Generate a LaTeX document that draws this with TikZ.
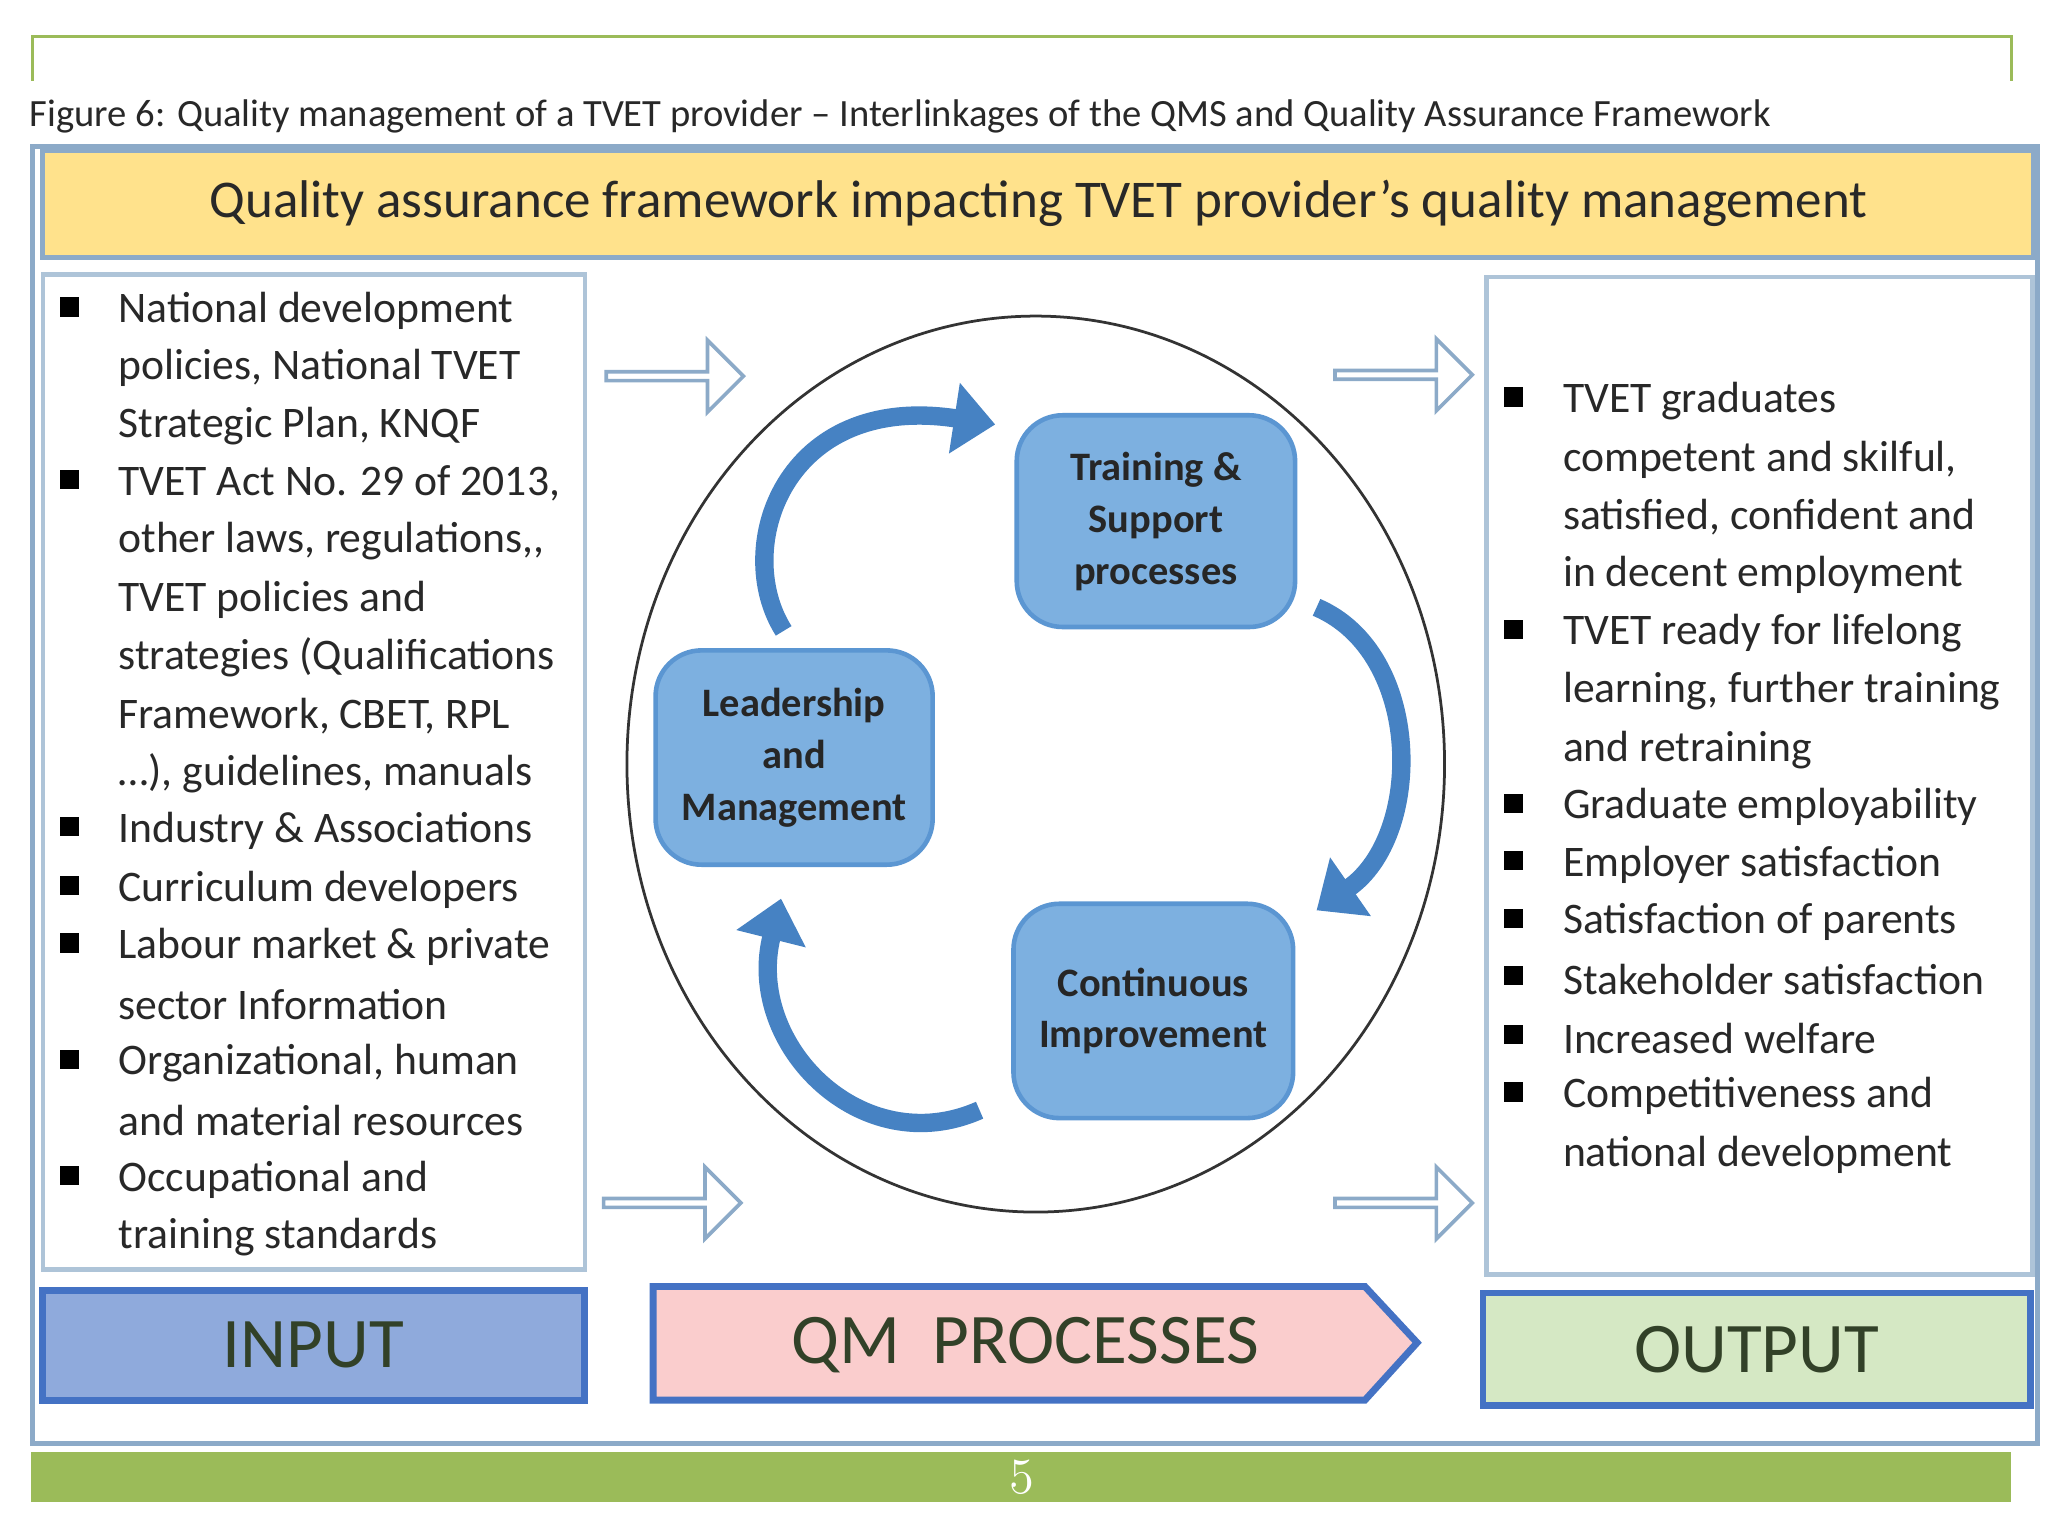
\documentclass[tikz,border=0pt]{standalone}
\usepackage{fontspec}
\setmainfont{Carlito}
\usetikzlibrary{shapes.arrows,arrows.meta}
\definecolor{olv}{RGB}{155,187,89}
\definecolor{frm}{RGB}{140,170,200}
\definecolor{boxf}{RGB}{125,176,224}
\definecolor{boxd}{RGB}{91,150,210}
\definecolor{arr}{RGB}{70,130,195}
\definecolor{txt}{RGB}{40,40,40}
\definecolor{big}{RGB}{50,65,40}
\tikzset{
 li/.style={anchor=west,inner sep=0pt,font=\fontsize{9.5}{11}\selectfont,text=txt},
 bul/.style={anchor=center,fill=black,minimum size=4.2pt,inner sep=0pt},
 pbox/.style={draw=boxd,line width=1pt,fill=boxf,rounded corners=10pt,align=center,font=\bfseries\fontsize{8.8}{11.3}\selectfont,text=black!85},
 harr/.style={single arrow,draw=frm,line width=0.8pt,fill=white,minimum height=1.05cm,minimum width=0.55cm,single arrow head extend=0.1cm,inner sep=0pt},
 carr/.style={arr,line width=4pt,-{Triangle[length=9pt,width=15pt]}},
}
\begin{document}
\begin{tikzpicture}[x=0.01cm,y=-0.01cm]
\useasboundingbox (0,0) rectangle (1568,1176);
\fill[white] (0,0) rectangle (1568,1176);
\draw[olv,line width=0.7pt] (25,62) -- (25,28) -- (1540,28) -- (1540,62);
\node[anchor=west,inner sep=0pt,font=\fontsize{8.4}{10}\selectfont,text=txt] (cap) at (22,89) {Figure 6: Quality management of a TVET provider – Interlinkages of the QMS and Quality Assurance Framework};
\draw[frm,line width=1pt] (25,112) rectangle (1560,1105);
\node[draw=frm,line width=1.2pt,fill={rgb,255:red,255;green,226;blue,140},minimum width=15.24cm,minimum height=0.82cm,font=\fontsize{11.55}{13}\selectfont,text=txt] (ban) at (795,156) {Quality assurance framework impacting TVET provider’s quality management};
\draw[frm!70,line width=1pt] (33,210) rectangle (448,972);
\draw[frm!70,line width=1pt] (1138,212) rectangle (1556,976);
\draw[black!80,line width=0.6pt] (793,585) ellipse [x radius=313,y radius=343];
\node[pbox,minimum width=2.13cm,minimum height=1.62cm] (tr) at (885,399) {Training \&\\Support\\processes};
\node[pbox,minimum width=2.12cm,minimum height=1.64cm] (ld) at (608,580) {Leadership\\and\\Management};
\node[pbox,minimum width=2.14cm,minimum height=1.64cm] (ci) at (883,774) {Continuous\\Improvement};
\coordinate (a1s) at (600,483); \coordinate (a1e) at (762,325);
\draw[carr] (a1s) .. controls (560,420) and (600,300) .. (a1e);
\coordinate (a2s) at (1008,465); \coordinate (a2e) at (1008,697);
\draw[carr] (a2s) .. controls (1090,500) and (1090,640) .. (a2e);
\coordinate (a3s) at (750,850); \coordinate (a3e) at (598,688);
\draw[carr] (a3s) .. controls (660,890) and (570,800) .. (a3e);
\node[harr] (h1) at (515,288) {};
\node[harr] (h2) at (1073,287) {};
\node[harr] (h3) at (513,921) {};
\node[harr] (h4) at (1073,921) {};
\foreach \y/\t/\b [count=\i] in {238/National development/1,282/{policies, National TVET}/0,326/{Strategic Plan, KNQF}/0,370/{TVET Act No. 29 of 2013,}/1,414/{other laws, regulations{,}{,}}/0,459/TVET policies and/0,503/strategies (Qualifications/0,548/{Framework, CBET, RPL}/0,592/{…), guidelines, manuals}/0,636/Industry \& Associations/1,681/Curriculum developers/1,725/Labour market \& private/1,769/sector Information/0,814/{Organizational, human}/1,858/and material resources/0,903/Occupational and/1,947/training standards/0}{
 \node[li] (l\i) at (90,\y) {\t};
 \ifnum\b=1 \node[bul] (lb\i) at (53,\y-3) {};\fi
}
\foreach \y/\t/\b [count=\i] in {307/TVET graduates/1,352/{competent and skilful,}/0,396/{satisfied, confident and}/0,440/in decent employment/0,485/TVET ready for lifelong/1,529/{learning, further training}/0,574/and retraining/0,618/Graduate employability/1,662/Employer satisfaction/1,706/Satisfaction of parents/1,750/Stakeholder satisfaction/1,795/Increased welfare/1,839/Competitiveness and/1,884/national development/0}{
 \node[li] (r\i) at (1196,\y) {\t};
 \ifnum\b=1 \node[bul] (rb\i) at (1159,\y-3) {};\fi
}
\node[draw={rgb,255:red,68;green,114;blue,196},line width=1.5pt,fill={rgb,255:red,143;green,170;blue,220},minimum width=4.15cm,minimum height=0.84cm,font=\fontsize{15.5}{18}\selectfont,text=big] (inp) at (240,1030) {INPUT};
\draw[draw={rgb,255:red,68;green,114;blue,196},line width=1.5pt,fill={rgb,255:red,250;green,205;blue,205}] (500,985) -- (1045,985) -- (1085,1028) -- (1045,1072) -- (500,1072) -- cycle;
\node[font=\fontsize{15.5}{18}\selectfont,text=big] (qm) at (785,1030) {QM\ \ PROCESSES};
\node[draw={rgb,255:red,68;green,114;blue,196},line width=1.5pt,fill={rgb,255:red,213;green,232;blue,196},minimum width=4.19cm,minimum height=0.86cm,font=\fontsize{15.5}{18}\selectfont,text=big] (out) at (1345,1033) {OUTPUT};
\node[fill=olv,minimum width=15.15cm,minimum height=0.38cm,inner sep=0pt,font=\fontfamily{lmr}\fontsize{11}{12}\selectfont,text=white] (pg) at (782,1131) {5};
\end{tikzpicture}
\end{document}
